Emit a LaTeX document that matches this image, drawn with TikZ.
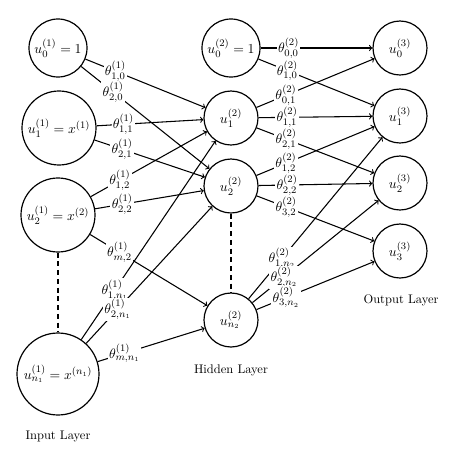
\documentclass[tikz,border=0pt]{standalone}
\begin{document}
\begin{tikzpicture}[x=0.8pt,y=-0.8pt,>=to,
  neuron/.style={circle,draw,line width=0.95pt,inner sep=0pt,font=\fontsize{11pt}{13pt}\selectfont},
  small/.style={neuron,minimum size=43.2pt},
  wlab/.style={fill=white,inner sep=1pt,pos=0.25,font=\fontsize{11pt}{13pt}\selectfont},
  conn/.style={->,line width=0.85pt},
  caption/.style={font=\normalsize}]
\useasboundingbox (0,0) rectangle (463,463);
% input layer
\node[neuron,minimum size=46.4pt] (i0) at (58,48) {$u_0^{(1)}=1$};
\node[neuron,minimum size=59.2pt] (i1) at (59,128) {$u_1^{(1)}=x^{(1)}$};
\node[neuron,minimum size=59.2pt] (i2) at (58,215) {$u_2^{(1)}=x^{(2)}$};
\node[neuron,minimum size=65.6pt] (in) at (58,374) {$u_{n_1}^{(1)}=x^{(n_1)}$};
% hidden layer
\node[neuron,minimum size=46.4pt] (h0) at (231,48) {$u_0^{(2)}=1$};
\node[small] (h1) at (231,118) {$u_1^{(2)}$};
\node[small] (h2) at (231,186) {$u_2^{(2)}$};
\node[small] (hn) at (231,320) {$u_{n_2}^{(2)}$};
% output layer
\node[small] (o0) at (400,48) {$u_0^{(3)}$};
\node[small] (o1) at (400,116) {$u_1^{(3)}$};
\node[small] (o2) at (400,183) {$u_2^{(3)}$};
\node[small] (o3) at (400,251) {$u_3^{(3)}$};
% dashed
\draw[dashed,line width=0.95pt,dash pattern=on 4pt off 3pt] (i2) -- (in);
\draw[dashed,line width=0.95pt,dash pattern=on 4pt off 3pt] (h2) -- (hn);
% input -> hidden
\draw[conn] (i0) -- node[wlab] {$\theta^{(1)}_{1,0}$} (h1);
\draw[conn] (i0) -- node[wlab] {$\theta^{(1)}_{2,0}$} (h2);
\draw[conn] (i1) -- node[wlab] {$\theta^{(1)}_{1,1}$} (h1);
\draw[conn] (i1) -- node[wlab] {$\theta^{(1)}_{2,1}$} (h2);
\draw[conn] (i2) -- node[wlab] {$\theta^{(1)}_{1,2}$} (h1);
\draw[conn] (i2) -- node[wlab] {$\theta^{(1)}_{2,2}$} (h2);
\draw[conn] (i2) -- node[wlab] {$\theta^{(1)}_{m,2}$} (hn);
\draw[conn] (in) -- node[wlab] {$\theta^{(1)}_{1,n_1}$} (h1);
\draw[conn] (in) -- node[wlab] {$\theta^{(1)}_{2,n_1}$} (h2);
\draw[conn] (in) -- node[wlab] {$\theta^{(1)}_{m,n_1}$} (hn);
% hidden -> output
\draw[conn] (h0) -- node[wlab] {$\theta^{(2)}_{0,0}$} (o0);
\draw[conn] (h0) -- node[wlab] {$\theta^{(2)}_{1,0}$} (o1);
\draw[conn] (h1) -- node[wlab] {$\theta^{(2)}_{0,1}$} (o0);
\draw[conn] (h1) -- node[wlab] {$\theta^{(2)}_{1,1}$} (o1);
\draw[conn] (h1) -- node[wlab] {$\theta^{(2)}_{2,1}$} (o2);
\draw[conn] (h2) -- node[wlab] {$\theta^{(2)}_{1,2}$} (o1);
\draw[conn] (h2) -- node[wlab] {$\theta^{(2)}_{2,2}$} (o2);
\draw[conn] (h2) -- node[wlab] {$\theta^{(2)}_{3,2}$} (o3);
\draw[conn] (hn) -- node[wlab] {$\theta^{(2)}_{1,n_2}$} (o1);
\draw[conn] (hn) -- node[wlab] {$\theta^{(2)}_{2,n_2}$} (o2);
\draw[conn] (hn) -- node[wlab] {$\theta^{(2)}_{3,n_2}$} (o3);
% layer captions
\node[caption] (inl) at (58,437) {Input Layer};
\node[caption] (hdl) at (231,370) {Hidden Layer};
\node[caption] (outl) at (401,300) {Output Layer};
\end{tikzpicture}
\end{document}
